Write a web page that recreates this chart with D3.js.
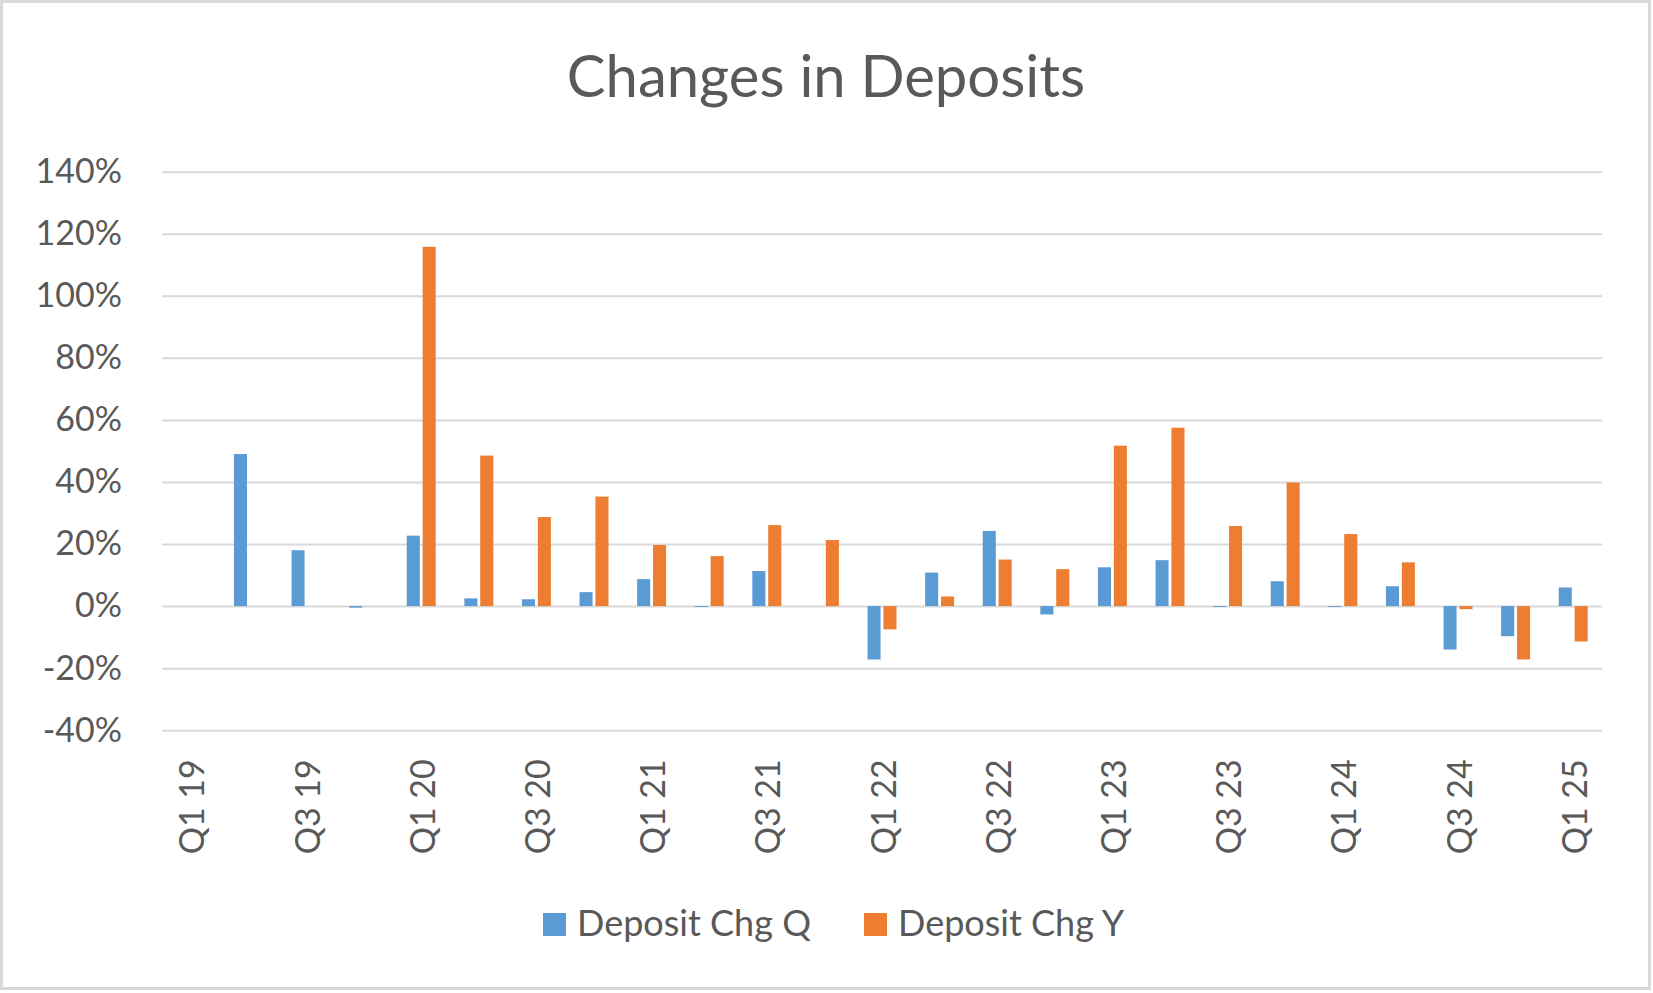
<!DOCTYPE html>
<html>
<head>
<meta charset="utf-8">
<script src="https://cdn.jsdelivr.net/npm/d3@7"></script>
<style>
  html, body { margin: 0; padding: 0; background: #fff; }
  svg { display: block; font-family: Lato, "Open Sans", sans-serif; }
</style>
</head>
<body>
<svg id="chart"></svg>
<script>
(() => {

  const quarters = [
    'Q1 19', 'Q2 19', 'Q3 19', 'Q4 19',
    'Q1 20', 'Q2 20', 'Q3 20', 'Q4 20',
    'Q1 21', 'Q2 21', 'Q3 21', 'Q4 21',
    'Q1 22', 'Q2 22', 'Q3 22', 'Q4 22',
    'Q1 23', 'Q2 23', 'Q3 23', 'Q4 23',
    'Q1 24', 'Q2 24', 'Q3 24', 'Q4 24',
    'Q1 25'
  ];

  // percent values
  const chgQ = [
    0, 49, 18, -0.5,
    22.7, 2.5, 2.2, 4.5,
    8.7, -0.3, 11.3, 0,
    -17.2, 10.8, 24.2, -2.7,
    12.5, 14.8, -0.3, 8,
    -0.3, 6.4, -14, -9.7,
    6
  ];

  const chgY = [
    null, null, null, null,
    115.8, 48.5, 28.7, 35.3,
    19.7, 16.1, 26.1, 21.3,
    -7.5, 3.1, 15, 11.9,
    51.7, 57.5, 25.8, 39.8,
    23.2, 14.1, -1, -17.2,
    -11.4
  ];

  const yTicks = [-40, -20, 0, 20, 40, 60, 80, 100, 120, 140];

  const seriesNames = ['Deposit Chg Q', 'Deposit Chg Y'];
  const colors = ['#5b9bd5', '#ed7d31'];

  const rows = quarters.map((q, i) => ({
    name: q,
    values: [chgQ[i], chgY[i]]
  }));

  const svgWidth = 1653;
  const svgHeight = 993;
  const plot = { left: 162, right: 1602, top: 171.7, bottom: 730.2 };
  const textColor = '#595959';

  const svg = d3.select('#chart')
    .attr('width', svgWidth)
    .attr('height', svgHeight);

  svg.append('rect')
    .attr('x', 1.5)
    .attr('y', 1.5)
    .attr('width', svgWidth - 5)
    .attr('height', svgHeight - 6)
    .attr('fill', '#fff')
    .attr('stroke', '#d9d9d9')
    .attr('stroke-width', 3);

  const xScale = d3.scaleBand()
    .domain(quarters)
    .range([plot.left, plot.right]);

  const xInner = d3.scaleBand()
    .domain([0, 1])
    .range([0, xScale.bandwidth()])
    .paddingInner(0.18)
    .paddingOuter(0.9);

  const yScale = d3.scaleLinear()
    .domain([-40, 140])
    .range([plot.bottom, plot.top]);

  // title
  svg.append('text')
    .attr('x', 826)
    .attr('y', 97)
    .attr('text-anchor', 'middle')
    .attr('fill', textColor)
    .style('font-size', '58px')
    .text('Changes in Deposits');

  // gridlines + y labels
  const yAxis = svg.append('g')
    .attr('transform', `translate(${plot.left}, 0)`)
    .call(d3.axisLeft(yScale)
      .tickValues(yTicks)
      .tickSize(-(plot.right - plot.left))
      .tickPadding(40)
      .tickFormat(d => d + '%'));

  yAxis.select('.domain').remove();
  yAxis.selectAll('line')
    .attr('stroke', '#d9d9d9')
    .attr('stroke-width', 2);
  yAxis.selectAll('text')
    .attr('fill', textColor)
    .style('font-size', '34px')
    .style('font-family', 'Lato, "Open Sans", sans-serif');

  // bars
  const groups = svg.append('g')
    .selectAll('g')
    .data(rows)
    .enter()
    .append('g')
    .attr('transform', d => `translate(${xScale(d.name)}, 0)`);

  groups.selectAll('rect')
    .data(d => d.values.map((v, k) => ({ k, v })).filter(e => e.v !== null))
    .enter()
    .append('rect')
    .attr('x', e => xInner(e.k))
    .attr('width', xInner.bandwidth())
    .attr('y', e => yScale(Math.max(0, e.v)))
    .attr('height', e => Math.abs(yScale(e.v) - yScale(0)))
    .attr('fill', e => colors[e.k]);

  // category labels, every other quarter
  const xAxis = svg.append('g')
    .attr('transform', `translate(0, ${plot.bottom})`)
    .call(d3.axisBottom(xScale)
      .tickValues(quarters.filter((q, i) => i % 2 === 0))
      .tickSize(0));

  xAxis.select('.domain').remove();
  xAxis.selectAll('text')
    .attr('fill', textColor)
    .style('font-size', '34px')
    .style('font-family', 'Lato, "Open Sans", sans-serif')
    .attr('text-anchor', 'end')
    .attr('dominant-baseline', 'central')
    .attr('transform', 'rotate(-90)')
    .attr('x', -29)
    .attr('y', 0)
    .attr('dy', 0);

  // legend
  const legendPos = [543, 864];
  const legend = svg.append('g')
    .selectAll('g')
    .data(seriesNames)
    .enter()
    .append('g')
    .attr('transform', (d, i) => `translate(${legendPos[i]}, 913)`);

  legend.append('rect')
    .attr('width', 23)
    .attr('height', 23)
    .attr('fill', (d, i) => colors[i]);

  legend.append('text')
    .attr('x', 34)
    .attr('y', 23)
    .attr('fill', textColor)
    .style('font-size', '36px')
    .text(d => d);

})();
</script>
</body>
</html>
